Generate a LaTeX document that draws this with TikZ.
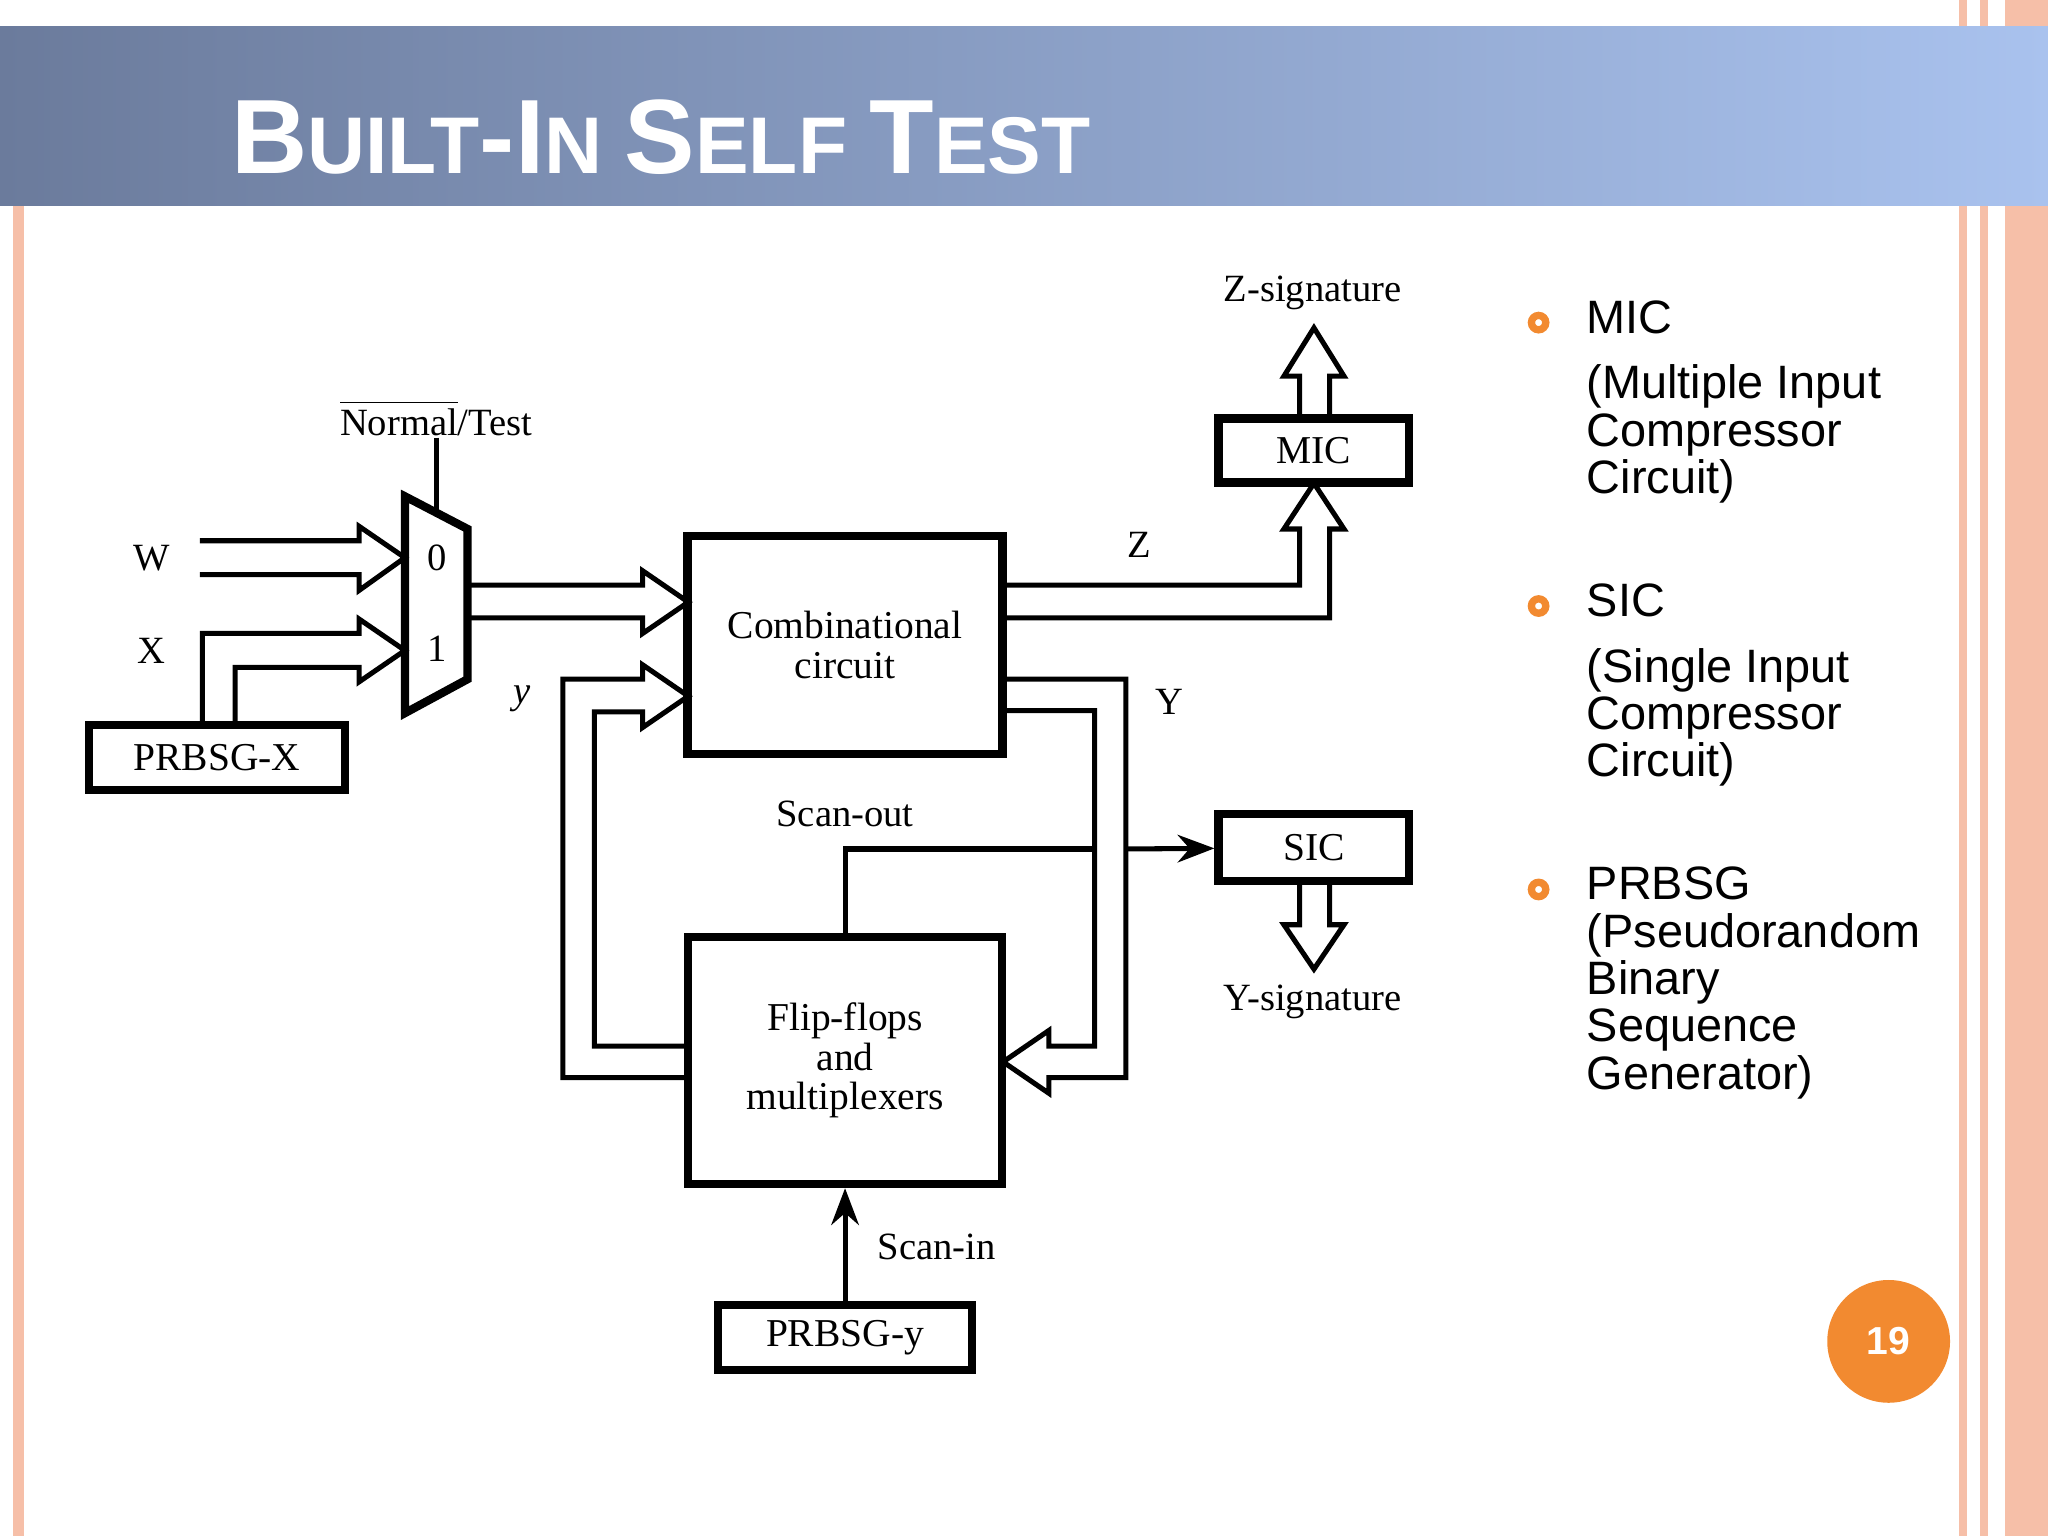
\documentclass[tikz,border=0pt]{standalone}
\usepackage{fontspec}
\setmainfont{Liberation Serif}
\newfontfamily\sans{Liberation Sans}
\usepackage{tikz}
\usetikzlibrary{arrows.meta}
\definecolor{bandL}{HTML}{6B7B9C}
\definecolor{bandR}{HTML}{A9C2EE}
\definecolor{rim}{HTML}{F6BFA8}
\definecolor{dot}{HTML}{F28A30}
\newcommand{\sct}[2]{{\fontsize{23pt}{24pt}\selectfont #1}{\fontsize{17.5pt}{18pt}\selectfont #2}}

\begin{document}
\begin{tikzpicture}[x=0.01cm,y=-0.01cm, line width=1.1pt,
	blk/.style={draw, line width=1.8pt, inner sep=0pt, font=\fontsize{8.6pt}{8.6pt}\selectfont},
	lbl/.style={font=\fontsize{8.4pt}{9pt}\selectfont},
	side/.style={inner sep=0pt, font=\sans\fontsize{10.2pt}{10.3pt}\selectfont, align=left}]
	\useasboundingbox (0,0) rectangle (1568,1176);
	% slide frame
	\fill[rim] (10,157) rectangle (18,1176);
	\fill[rim] (1500,0) rectangle (1506,1176);
	\fill[rim] (1516,0) rectangle (1522,1176);
	\fill[rim] (1535,0) rectangle (1568,1176);
	\shade[left color=bandL, right color=bandR] (0,20) rectangle (1568,157);
	\node[anchor=base west, inner sep=0pt, text=white, font=\sans\bfseries] (title) at (175,133)
		{\sct{B}{UILT}\sct{-I}{N }\sct{S}{ELF }\sct{T}{EST}};
	% blocks
	\node[blk, minimum width=1.46cm, minimum height=0.49cm] (mic) at (1006,345){MIC};
	\node[blk, minimum width=1.46cm, minimum height=0.51cm] (sic) at (1006,649){SIC};
	\node[blk, minimum width=1.96cm, minimum height=0.50cm] (prbx) at (166,580){PRBSG-X};
	\node[blk, minimum width=1.94cm, minimum height=0.50cm] (prby) at (647,1024){PRBSG-y};
	\node[blk, minimum width=2.41cm, minimum height=1.67cm, align=center] (comb) at (647,494){Combinational\\circuit};
	\node[blk, minimum width=2.40cm, minimum height=1.89cm, align=center] (ff) at (647,812){Flip-flops\\and\\multiplexers};
	\draw[line width=1.8pt] (310,380) -- (358,405) -- (358,520) -- (310,546) -- cycle;
	\node[lbl] (m0) at (335,427){0};
	\node[lbl] (m1) at (335,497){1};
	% labels
	\node[lbl] (zsig) at (1005,224){Z-signature};
	\node[lbl] (ysig) at (1005,767){Y-signature};
	\node[lbl] (sel) at (334,320){$\overline{\mbox{Normal}}$/Test};
	\node[lbl] (w) at (116,427){W};
	\node[lbl] (x) at (116,498){X};
	\node[lbl] (z) at (872,417){Z};
	\node[lbl] (ybig) at (895,537){Y};
	\node[lbl] (ysm) at (400,535){\itshape y};
	\node[lbl] (sout) at (647,623){Scan-out};
	\node[lbl] (sin) at (717,955){Scan-in};
	% wide arrows
	\draw (153,414) -- (275,414) -- (275,403) -- (310,427) -- (275,452) -- (275,440) -- (153,440);
	\draw (155,555) |- (275,485) -- (275,474) -- (310,498) -- (275,522) -- (275,511) -| (180,555);
	\draw (358,448) -- (492,448) -- (492,437) -- (527,461) -- (492,485) -- (492,473) -- (358,473);
	\draw (527,825) -| (431,520) -- (492,520) -- (492,509) -- (527,533) -- (492,557) -- (492,545) -| (455,801) -- (527,801);
	\draw (768,448) -| (995,405) -- (983,405) -- (1006,370) -- (1029,405) -- (1018,405) |- (768,473);
	\draw (995,321) -- (995,288) -- (983,288) -- (1006,251) -- (1029,288) -- (1018,288) -- (1018,321);
	\draw (768,520) -| (862,825) -- (803,825) -- (803,837) -- (768,813) -- (803,789) -- (803,801) -| (838,544) -- (768,544);
	\draw (995,675) -- (995,708) -- (983,708) -- (1006,742) -- (1029,708) -- (1018,708) -- (1018,675);
	% thin connectors
	\draw (334,335) -- (334,392);
	\draw[-{Stealth[length=8pt]}] (862,650) -- (sic);
	\draw (ff.north) -- (647,650) -- (838,650);
	\draw[-{Stealth[length=8pt]}] (prby) -- (ff);
	% notes
	\foreach \yy in {244,461,678}
		\draw[dot, line width=1.6pt] (1178,\yy+3) circle (5.5);
	\node[side, anchor=north west] (n1) at (1213,228){MIC\\[4pt](Multiple Input\\Compressor\\Circuit)};
	\node[side, anchor=north west] (n2) at (1213,445){SIC\\[4pt](Single Input\\Compressor\\Circuit)};
	\node[side, anchor=north west] (n3) at (1213,662){PRBSG\\(Pseudorandom\\Binary\\Sequence\\Generator)};
	\fill[dot] (1446,1027) circle (47);
	\node[text=white, font=\sans\bfseries\fontsize{8.5pt}{9pt}\selectfont] (pg) at (1446,1027){19};
\end{tikzpicture}
\end{document}
